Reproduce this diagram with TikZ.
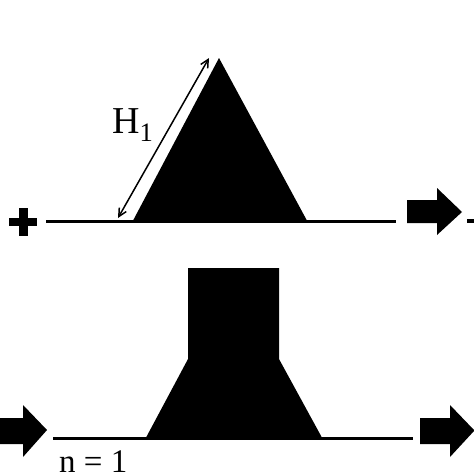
\documentclass[tikz,border=0pt]{standalone}
\usepackage{fontspec}
\setmainfont{Liberation Serif}
\usetikzlibrary{arrows.meta}
\begin{document}
\begin{tikzpicture}[x=1pt,y=-1pt,
  base/.style={line width=3pt,black},
  solid shape/.style={fill=black,draw=none},
  fatarrow/.style={fill=black,draw=none},
  dim/.style={line width=1.5pt,{Straight Barb[length=8pt,width=8pt,line width=1.5pt]}-{Straight Barb[length=8pt,width=8pt,line width=1.5pt]}},
  lbl/.style={inner sep=0pt,font=\fontsize{38}{40}\selectfont}
]
\useasboundingbox (0,0) rectangle (474,474);
% ---- top row ----
% plus sign
\fill (9,217.5) rectangle (37,226);
\fill (18.5,208) rectangle (27.5,236);
% baseline
\coordinate (t1) at (46,221);
\coordinate (t2) at (396,221);
\draw[base] (t1) -- (t2);
% triangle
\fill[solid shape] (132,222.5) -- (219,58) -- (308,222.5) -- cycle;
% dimension H1
\coordinate (h1) at (118,218);
\coordinate (h2) at (209,58);
\draw[dim] (h1) -- (h2);
\node[lbl,anchor=base west] (H) at (112,133) {H\textsubscript{1}};
% right fat arrow
\fill[fatarrow] (407,200) -- (437,200) -- (437,188) -- (462,212) -- (437,235) -- (437,223) -- (407,223) -- cycle;
% dash at right edge
\fill (467,218.5) rectangle (474,222.5);
% ---- bottom row ----
% left fat arrow
\fill[fatarrow] (0,418) -- (23,418) -- (23,405) -- (47,430) -- (23,457) -- (23,444) -- (0,444) -- cycle;
% baseline
\coordinate (b1) at (53,438);
\coordinate (b2) at (413,438);
\draw[base] (b1) -- (b2);
% trapezoid + rectangle
\fill[solid shape] (145,439.5) -- (188,359) -- (188,268) -- (279,268) -- (279,359) -- (323,439.5) -- cycle;
% right fat arrow
\fill[fatarrow] (420,418) -- (450,418) -- (450,405) -- (474,430) -- (474,431) -- (450,457) -- (450,444) -- (420,444) -- cycle;
% label
\node[inner sep=0pt,anchor=base west,font=\fontsize{33}{35}\selectfont] (n) at (59,472) {n = 1};
\end{tikzpicture}
\end{document}
